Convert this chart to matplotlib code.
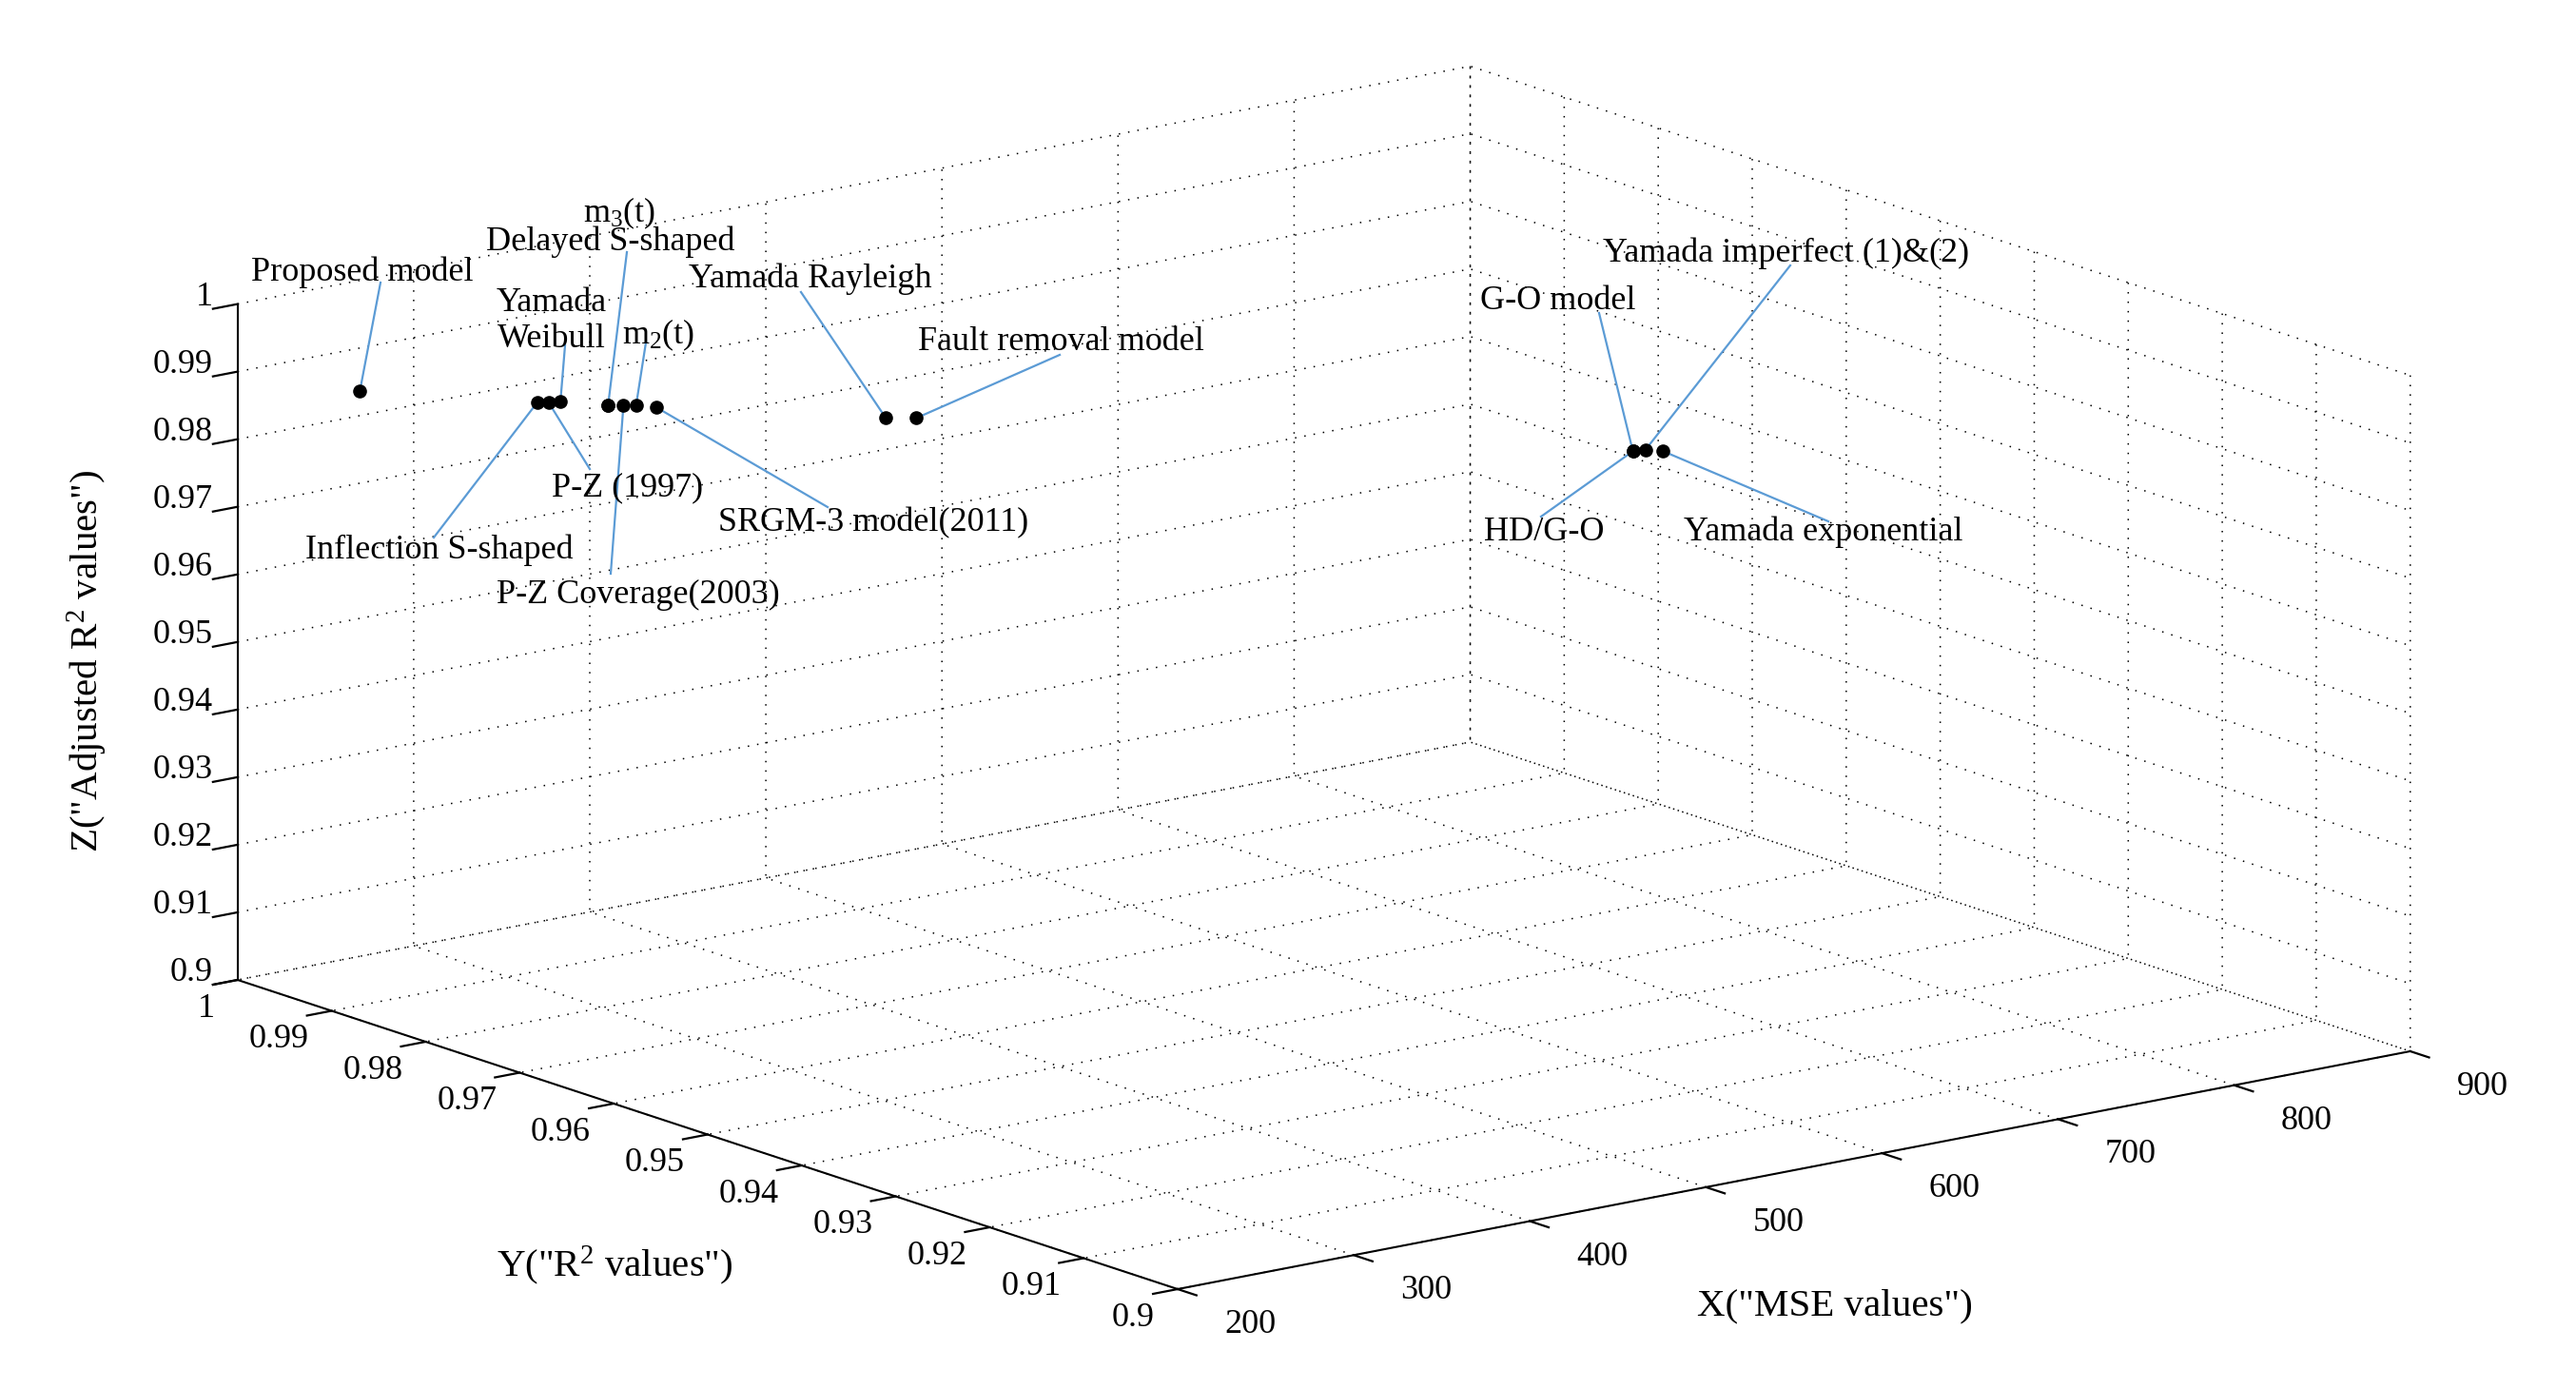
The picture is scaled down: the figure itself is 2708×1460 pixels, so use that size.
import numpy as np
import matplotlib
matplotlib.use('Agg')
import matplotlib.pyplot as plt
from matplotlib.lines import Line2D
from matplotlib.transforms import IdentityTransform
from mpl_toolkits.mplot3d import proj3d

plt.rcParams['font.family'] = ['Liberation Serif', 'DejaVu Serif']
plt.rcParams['mathtext.fontset'] = 'custom'
plt.rcParams['mathtext.rm'] = 'Liberation Serif'
plt.rcParams['mathtext.it'] = 'Liberation Serif:italic'

# model results
models = ['Proposed model', 'Inflection S-shaped', 'P-Z (1997)', 'Yamada\nWeibull',
          'Delayed S-shaped', 'm$_3$(t)', 'P-Z Coverage(2003)', 'm$_2$(t)',
          'SRGM-3 model(2011)', 'Yamada Rayleigh', 'Fault removal model',
          'G-O model', 'HD/G-O', 'Yamada imperfect (1)&(2)', 'Yamada exponential']
mse = [218.7, 298.6, 304.1, 310.2, 331.4, 331.4, 338.5, 344.6, 353.6,
       458.7, 473.4, 801.8, 801.8, 808.3, 816.3]
r2 = [0.9905, 0.9866, 0.9864, 0.9863, 0.9852, 0.9852, 0.9849, 0.9847, 0.9842,
      0.9795, 0.9790, 0.9643, 0.9643, 0.9642, 0.9638]
adj_r2 = [0.9905, 0.9866, 0.9864, 0.9863, 0.9852, 0.9852, 0.9849, 0.9847, 0.9842,
          0.9795, 0.9790, 0.9643, 0.9643, 0.9642, 0.9638]

x_ticks = [200, 300, 400, 500, 600, 700, 800, 900]
y_ticks = [0.9, 0.91, 0.92, 0.93, 0.94, 0.95, 0.96, 0.97, 0.98, 0.99, 1.0]
z_ticks = [0.9, 0.91, 0.92, 0.93, 0.94, 0.95, 0.96, 0.97, 0.98, 0.99, 1.0]
y_labels = ['0.9', '0.91', '0.92', '0.93', '0.94', '0.95', '0.96', '0.97', '0.98', '0.99', '1']
z_labels = y_labels

# label placement (pixels from top-left): text anchor, alignment, leader start
lab_x = [264, 321, 580, 580, 511, 613, 522, 654, 755, 724, 965, 1556, 1560, 1685, 1770]
lab_y = [295, 587, 521, 365, 263, 233, 634, 361, 558, 302, 368, 325, 568, 275, 568]
lab_ha = ['left', 'left', 'left', 'center', 'left', 'left', 'left', 'left', 'left',
          'left', 'left', 'left', 'left', 'left', 'left']
lead_x = [400, 456, 620, 594, 659, None, 642, 679, 870, 842, 1114, 1681, 1620, 1882, 1922]
lead_y = [297, 565, 493, 363, 265, None, 603, 360, 533, 307, 373, 329, 543, 279, 548]

W, H = 2708, 1460
fig = plt.figure(figsize=(W / 100, H / 100), dpi=100)
ax = fig.add_axes([0, 0, 1, 1], projection='3d', proj_type='ortho', computed_zorder=False)
ax.set_box_aspect((1632, 1625, 734))
ax.view_init(elev=14.59, azim=-127.45)
ax.set_xlim(200, 900)
ax.set_ylim(0.9, 1.0)
ax.set_zlim(0.9, 1.0)
ax.set_xticks(x_ticks)
ax.set_yticks(y_ticks)
ax.set_zticks(z_ticks)
ax.set_xticklabels([])
ax.set_yticklabels([])
ax.set_zticklabels([])

for axis in (ax.xaxis, ax.yaxis, ax.zaxis):
    axis.set_pane_color((1, 1, 1, 0))
    axis._axinfo['grid'].update(color='k', linewidth=1.1, linestyle=(0, (1, 5.5)))
    axis._axinfo['tick']['inward_factor'] = 0.25
    axis._axinfo['tick']['outward_factor'] = 0.0
    axis._axinfo['tick']['linewidth'] = {True: 1.6, False: 1.0}
    axis.line.set_color('k')
    axis.line.set_linewidth(1.5)
ax.tick_params(color='k')

ax.scatter(mse, r2, adj_r2, s=90, c='k', depthshade=False, zorder=5)

# fit the projected box to the reference frame
def to_px(x, y, z):
    xs, ys, _ = proj3d.proj_transform(x, y, z, ax.get_proj())
    return ax.transData.transform((xs, ys))

for _ in range(3):
    fig.canvas.draw()
    a = to_px(200, 0.9, 0.9)
    b = to_px(900, 0.9, 0.9)
    c = to_px(200, 1.0, 0.9)
    k = (2534 - 250) / (b[0] - c[0])
    bb = ax.get_position(original=False).frozen()
    x0, y0, w, h = bb.x0 * W, bb.y0 * H, bb.width * W, bb.height * H
    u = (a - np.array([x0, y0])) / np.array([w, h])
    nw, nh = w * k, h * k
    ax.set_position([(1238 - u[0] * nw) / W, (H - 1355 - u[1] * nh) / H, nw / W, nh / H])
fig.canvas.draw()

fs = 26
for t in x_ticks:
    p = to_px(t, 0.9, 0.9)
    fig.text((p[0] + 76) / W, (p[1] - 46) / H, str(t), ha='center', va='baseline', fontsize=fs)
for t, s in zip(y_ticks, y_labels):
    p = to_px(200, t, 0.9)
    fig.text((p[0] - 24) / W, (p[1] - 39) / H, s, ha='right', va='baseline', fontsize=fs)
for t, s in zip(z_ticks, z_labels):
    p = to_px(200, 1.0, t)
    fig.text((p[0] - 26) / W, (p[1] - 1) / H, s, ha='right', va='baseline', fontsize=fs)

fig.text(1929 / W, 1 - 1373 / H, 'X("MSE values")', ha='center', va='center', fontsize=29.5)
fig.text(646 / W, 1 - 1330 / H, 'Y("R$^2$ values")', ha='center', va='center', fontsize=29.5)
fig.text(92 / W, 1 - 695 / H, 'Z("Adjusted R$^2$ values")', ha='center', va='center',
         rotation=90, fontsize=29.5)

for i, name in enumerate(models):
    fig.text(lab_x[i] / W, 1 - lab_y[i] / H, name, ha=lab_ha[i], va='baseline',
             multialignment='center', fontsize=fs)
    if lead_x[i] is not None:
        p = to_px(mse[i], r2[i], adj_r2[i])
        ln = Line2D([lead_x[i], p[0]], [H - lead_y[i], p[1]], transform=IdentityTransform(),
                    color='#5b9bd5', linewidth=1.6, zorder=4)
        ln.set_clip_on(False)
        ax.add_artist(ln)

fig.savefig('out.png', dpi=100)
